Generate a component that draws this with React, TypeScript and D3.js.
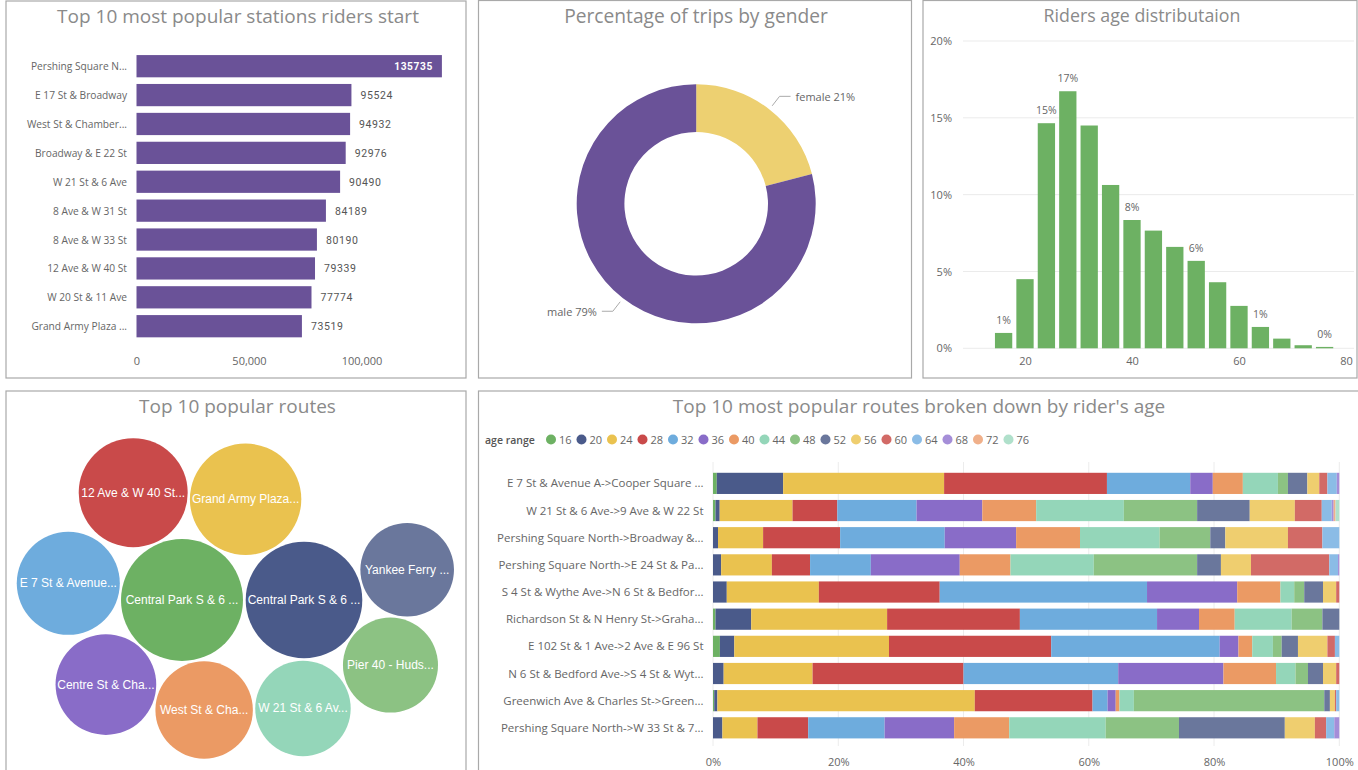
import { useEffect, useRef } from 'react'
import * as d3 from 'd3'

// station chart
const stations = ['Pershing Square N...', 'E 17 St & Broadway', 'West St & Chamber...', 'Broadway & E 22 St', 'W 21 St & 6 Ave', '8 Ave & W 31 St', '8 Ave & W 33 St', '12 Ave & W 40 St', 'W 20 St & 11 Ave', 'Grand Army Plaza ...']
const stationTrips = [135735, 95524, 94932, 92976, 90490, 84189, 80190, 79339, 77774, 73519]
const stationTicks = [0, 50000, 100000]

// gender donut
const genders = ['female', 'male']
const genderShare = [21, 79]

// age histogram
const ages = [16, 20, 24, 28, 32, 36, 40, 44, 48, 52, 56, 60, 64, 68, 72, 76]
const ageShare = [1.0, 4.5, 14.65, 16.73, 14.5, 10.63, 8.35, 7.66, 6.6, 5.69, 4.3, 2.76, 1.39, 0.63, 0.2, 0.09]
const labelledAges = [16, 24, 28, 40, 52, 64, 76]

// route bubbles: the two biggest sit in the middle, the rest go round them clockwise from the top
const middleNames = ['Central Park S & 6 ...', 'Central Park S & 6 ...']
const middleRiders = [3700, 3380]
const middleColors = ['#6DB163', '#4A5A8A']
const ringNames = ['Grand Army Plaza...', null, 'Yankee Ferry ...', 'Pier 40 - Huds...', 'W 21 St & 6 Av...', 'West St & Cha...', 'Centre St & Cha...', 'E 7 St & Avenue...', '12 Ave & W 40 St...']
const ringRiders = [3085, 0, 2178, 2246, 2265, 2360, 2520, 2640, 2954]
const ringColors = ['#EAC24F', '', '#6A779C', '#8CC283', '#94D6B9', '#EB9A64', '#896CC8', '#6EACDD', '#C94A4A']

// routes by age, one list per route in age order
const routes = ['E 7 St & Avenue A->Cooper Square ...', 'W 21 St & 6 Ave->9 Ave & W 22 St', 'Pershing Square North->Broadway &...', 'Pershing Square North->E 24 St & Pa...', 'S 4 St & Wythe Ave->N 6 St & Bedfor...', 'Richardson St & N Henry St->Graha...', 'E 102 St & 1 Ave->2 Ave & E 96 St', 'N 6 St & Bedford Ave->S 4 St & Wyt...', 'Greenwich Ave & Charles St->Green...', 'Pershing Square North->W 33 St & 7...']
const routeShares = [
  [0.6, 10.6, 25.7, 26.0, 13.3, 3.6, 4.8, 5.6, 1.6, 3.1, 1.9, 1.3, 1.5, 0.4, 0, 0],
  [0.4, 0.67, 11.63, 7.15, 12.65, 10.5, 8.6, 14, 11.7, 8.4, 7.2, 4.3, 1.6, 0.3, 0.3, 0.6],
  [0, 0.8, 7.2, 12.3, 16.7, 11.4, 10.2, 12.7, 8.1, 2.4, 10, 5.5, 2.7, 0, 0, 0],
  [0, 1.3, 8.1, 6.1, 9.7, 14.2, 8.1, 13.3, 16.5, 3.8, 4.8, 12.5, 1.4, 0.2, 0, 0],
  [0, 2.2, 14.7, 19.3, 33.1, 14.4, 6.9, 2.2, 1.6, 3, 2.1, 0.5, 0, 0, 0, 0],
  [0.4, 5.7, 21.7, 21.2, 21.9, 6.7, 5.7, 9.1, 4.9, 2.7, 0, 0, 0, 0, 0, 0],
  [1.1, 2.3, 24.7, 25.9, 26.9, 3, 2.2, 3.3, 1.4, 2.6, 4.7, 1.2, 0.7, 0, 0, 0],
  [0, 1.7, 14.2, 24.1, 24.7, 16.8, 8.4, 3.1, 2, 2.4, 2.1, 0.5, 0, 0, 0, 0],
  [0.2, 0.5, 41.1, 18.8, 2.4, 1.3, 0.6, 2.3, 30.4, 0.9, 0.8, 0.2, 0.5, 0, 0, 0],
  [0, 1.5, 5.6, 8.1, 12.2, 11.1, 8.8, 15.4, 11.7, 16.9, 4.8, 1.8, 1.3, 0.8, 0, 0]
]
const routeTicks = [0, 20, 40, 60, 80, 100]
const ageColors = ['#6DB163', '#4A5A8A', '#EAC24F', '#C94A4A', '#6EACDD', '#896CC8', '#EB9A64', '#94D6B9', '#8CC283', '#6A779C', '#EFCE6F', '#D26A66', '#8BBCE6', '#A58ED8', '#F0B08A', '#B0E0CB']

const UI_FONT = '"Open Sans", sans-serif'
const TITLE = '#8a8a8a'
const LABEL = '#666'

export default function App() {
  const svgRef = useRef<SVGSVGElement>(null)

  useEffect(() => {
    if (!svgRef.current) return
    const svg = d3.select(svgRef.current)
    svg.selectAll('*').remove()
    svg.style('font-family', UI_FONT)

    const panel = (x: number, y: number, w: number, h: number, title: string, cx: number, ty: number, size = 19) => {
      svg.append('rect').attr('x', x).attr('y', y).attr('width', w).attr('height', h)
        .attr('fill', '#fff').attr('stroke', '#a9a9a9').attr('stroke-width', 1.2)
      svg.append('text').attr('x', cx).attr('y', ty).attr('text-anchor', 'middle')
        .attr('dominant-baseline', 'central').attr('fill', TITLE).style('font-size', `${size}px`).text(title)
    }

    panel(6, 1, 460, 377, 'Top 10 most popular stations riders start', 238, 16)
    panel(478.5, 0.5, 433, 377.5, 'Percentage of trips by gender', 696, 15, 19.2)
    panel(923, 0.5, 434, 377.5, 'Riders age distributaion', 1142, 15, 17.8)
    panel(6, 391, 460, 395, 'Top 10 popular routes', 237.5, 406)
    panel(478.5, 391, 890, 395, "Top 10 most popular routes broken down by rider's age", 919, 406)

    const cleanAxis = (g: d3.Selection<SVGGElement, unknown, null, undefined>, size: string) => {
      g.select('.domain').remove()
      g.selectAll('.tick line').remove()
      g.selectAll('text').attr('fill', LABEL).style('font-size', size).style('font-family', UI_FONT)
    }

    // stations
    const sx = d3.scaleLinear().domain([0, 100000]).range([136.5, 361.5])
    const sy = d3.scaleBand<string>().domain(stations.map((_, i) => String(i))).range([51.75, 340.65]).paddingInner(0.23).paddingOuter(0.115)
    const sg = svg.append('g')
    stationTrips.forEach((v, i) => {
      const y = sy(String(i)) as number
      sg.append('rect').attr('x', sx(0)).attr('y', y).attr('width', sx(v) - sx(0)).attr('height', sy.bandwidth()).attr('fill', '#6A5298')
      sg.append('text').attr('x', 127).attr('y', y + sy.bandwidth() / 2).attr('text-anchor', 'end')
        .attr('dominant-baseline', 'central').attr('fill', LABEL).style('font-size', '10.2px').text(stations[i])
      const inside = i === 0
      sg.append('text').attr('x', inside ? sx(v) - 9 : sx(v) + 9).attr('y', y + sy.bandwidth() / 2 + 0.5)
        .attr('text-anchor', inside ? 'end' : 'start').attr('dominant-baseline', 'central')
        .attr('fill', inside ? '#fff' : '#555').style('font-family', 'Roboto, sans-serif')
        .style('font-weight', inside ? 700 : 400).style('letter-spacing', '0.6px').style('font-size', inside ? '10.2px' : '10.5px').text(v)
    })
    const sAxis = svg.append('g').attr('transform', 'translate(0,348)')
      .call(d3.axisBottom(sx).tickValues(stationTicks).tickFormat(d3.format(',') as any))
    cleanAxis(sAxis as any, '11px')

    // donut
    const pie = d3.pie<number>().sort(null).value(d => d)(genderShare)
    const arc = d3.arc<d3.PieArcDatum<number>>().innerRadius(71.8).outerRadius(119.5)
    const dg = svg.append('g').attr('transform', 'translate(696.2,203.8)')
    const genderColors = ['#EDD071', '#6A5298']
    pie.forEach((p, i) => {
      dg.append('path').attr('d', arc(p)).attr('fill', genderColors[i])
      const mid = (p.startAngle + p.endAngle) / 2
      const side = Math.sin(mid) > 0 ? 1 : -1
      const x0 = Math.sin(mid) * 124
      const y0 = -Math.cos(mid) * 124
      const x1 = Math.sin(mid) * 136
      const y1 = -Math.cos(mid) * 136
      const x2 = x1 + side * 11
      dg.append('path').attr('d', d3.line()([[x0, y0], [x1, y1], [x2, y1]])).attr('fill', 'none').attr('stroke', '#aaa')
      dg.append('text').attr('x', x2 + side * 5).attr('y', y1).attr('text-anchor', side > 0 ? 'start' : 'end')
        .attr('dominant-baseline', 'central').attr('fill', LABEL).style('font-size', '11px')
        .text(`${genders[i]} ${genderShare[i]}%`)
    })

    // age histogram
    const hx = d3.scaleLinear().domain([20, 80]).range([1025, 1346])
    const hy = d3.scaleLinear().domain([0, 20]).range([348.3, 41])
    const hGrid = svg.append('g')
    hy.ticks(4).forEach(t => {
      hGrid.append('line').attr('x1', 963).attr('x2', 1354).attr('y1', hy(t)).attr('y2', hy(t)).attr('stroke', '#ebebeb')
    })
    const yAxis = svg.append('g').attr('transform', 'translate(952,0)')
      .call(d3.axisLeft(hy).ticks(4).tickSize(0).tickPadding(0).tickFormat(d => `${d}%`))
    cleanAxis(yAxis as any, '11px')
    const xAxis = svg.append('g').attr('transform', 'translate(0,348)')
      .call(d3.axisBottom(hx).tickValues([20, 40, 60, 80]))
    cleanAxis(xAxis as any, '11px')
    const barW = 17.3
    ages.forEach((a, i) => {
      svg.append('rect').attr('x', hx(a) - barW / 2).attr('y', hy(ageShare[i])).attr('width', barW)
        .attr('height', hy(0) - hy(ageShare[i])).attr('fill', '#6DB163')
      if (labelledAges.includes(a)) {
        svg.append('text').attr('x', hx(a)).attr('y', hy(ageShare[i]) - 13).attr('text-anchor', 'middle')
          .attr('dominant-baseline', 'central').attr('fill', LABEL).style('font-size', '10.5px')
          .text(`${Math.round(ageShare[i])}%`)
      }
    })

    // bubbles: middle pair stays put, the ring starts wide and a force layout pulls it in
    const rScale = d3.scaleSqrt().domain([0, 3700]).range([0, 61])
    const nodes: any[] = []
    middleRiders.forEach((v, i) => {
      const x = i === 0 ? -61 : 61
      nodes.push({ name: middleNames[i], color: middleColors[i], r: rScale(v), x, y: 0, fx: x, fy: 0 })
    })
    const step = (Math.PI * 2) / ringNames.length
    ringRiders.forEach((v, i) => {
      if (!ringNames[i]) return
      const angle = -Math.PI / 2 + i * step
      nodes.push({ name: ringNames[i], color: ringColors[i], r: rScale(v), x: Math.cos(angle) * 190, y: Math.sin(angle) * 160 })
    })
    d3.forceSimulation(nodes)
      .force('x', d3.forceX(0).strength(0.03))
      .force('y', d3.forceY(0).strength(0.05))
      .force('collide', d3.forceCollide((d: any) => d.r + 1.2).iterations(4))
      .stop()
      .tick(400)
    const bg = svg.append('g').attr('transform', 'translate(243,600)')
    nodes.forEach(n => {
      bg.append('circle').attr('cx', n.x).attr('cy', n.y).attr('r', n.r).attr('fill', n.color)
      bg.append('text').attr('x', n.x).attr('y', n.y).attr('text-anchor', 'middle').attr('dominant-baseline', 'central')
        .attr('fill', '#fff').style('font-family', '"Liberation Sans", Arial, sans-serif').style('font-size', '12px').text(n.name)
    })

    // stacked routes
    const rx = d3.scaleLinear().domain([0, 100]).range([713, 1339.3])
    const ry = d3.scaleBand<string>().domain(routes).range([469.8, 741.4]).paddingInner(0.22).paddingOuter(0.11)
    routeTicks.forEach(t => {
      svg.append('line').attr('x1', rx(t)).attr('x2', rx(t)).attr('y1', 462).attr('y2', 746).attr('stroke', '#ececec')
    })
    const keys = ages.map(String)
    const rows = routeShares.map((row, i) => {
      const o: Record<string, any> = { route: routes[i] }
      keys.forEach((k, j) => { o[k] = row[j] })
      return o
    })
    d3.stack<any>().keys(keys)(rows).forEach((layer, k) => {
      layer.forEach(d => {
        if (d[1] - d[0] <= 0) return
        svg.append('rect').attr('x', rx(d[0])).attr('y', ry(d.data.route) as number)
          .attr('width', rx(d[1]) - rx(d[0])).attr('height', ry.bandwidth()).attr('fill', ageColors[k])
      })
    })
    routes.forEach(r => {
      svg.append('text').attr('x', 703.5).attr('y', (ry(r) as number) + ry.bandwidth() / 2 - 0.5).attr('text-anchor', 'end')
        .attr('dominant-baseline', 'central').attr('fill', LABEL).style('font-size', '11.5px').text(r)
    })
    const rAxis = svg.append('g').attr('transform', 'translate(0,749)')
      .call(d3.axisBottom(rx).tickValues(routeTicks).tickFormat(d => `${d}%`))
    cleanAxis(rAxis as any, '11px')

    // legend
    svg.append('text').attr('x', 485).attr('y', 439.5).attr('dominant-baseline', 'central')
      .attr('fill', '#555').style('font-size', '10.5px').style('font-weight', 600).text('age range')
    const lx = d3.scalePoint<string>().domain(keys).range([551, 1008.5])
    keys.forEach((k, i) => {
      svg.append('circle').attr('cx', lx(k) as number).attr('cy', 439.5).attr('r', 5).attr('fill', ageColors[i])
      svg.append('text').attr('x', (lx(k) as number) + 8).attr('y', 439.5).attr('dominant-baseline', 'central')
        .attr('fill', LABEL).style('font-size', '11px').text(k)
    })
  }, [])

  return <svg ref={svgRef} width={1358} height={770} style={{ position: 'absolute', left: 0, top: 0, background: '#fff' }} />
}
